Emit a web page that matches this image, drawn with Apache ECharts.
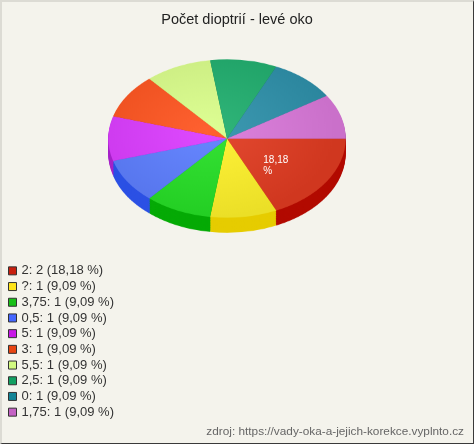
<!DOCTYPE html>
<html><head><meta charset="utf-8">
<script src="https://cdn.jsdelivr.net/npm/echarts@6/dist/echarts.min.js"></script>
<style>
html,body{margin:0;padding:0;background:#f4f3ec;}
#wrap{position:relative;width:474px;height:444px;overflow:hidden;background:#f4f3ec;}
#pie3d{position:absolute;left:0;top:0;width:474px;height:666px;transform:scaleY(0.6667);transform-origin:0 0;}
#main{position:absolute;left:0;top:0;width:474px;height:444px;}
#frame{position:absolute;left:0;top:0;width:474px;height:444px;box-sizing:border-box;border-left:2px solid #dcdbd4;border-top:2px solid #dcdbd4;border-right:1px solid #3a3a3a;border-bottom:1px solid #3a3a3a;pointer-events:none;}
</style></head>
<body>
<div id="wrap"><div id="pie3d"></div><div id="main"></div><div id="frame"></div></div>
<script>
const categories = ['2', '?', '3,75', '0,5', '5', '3', '5,5', '2,5', '0', '1,75'];
const counts = [2, 1, 1, 1, 1, 1, 1, 1, 1, 1];
const topColors = ['#e23c22', '#fff22a', '#26e026', '#5c7eff', '#dc3cff', '#ff5520', '#dcff8c', '#22b070', '#2f92ac', '#dc7adc'];
const sideColors = ['#b20a00', '#e6cc00', '#05aa05', '#2b50e4', '#a620c8', '#c43a0a', '#a8cc5a', '#157a48', '#1b6578', '#a04aa0'];
const legendColors = ['#c8200f', '#ffe41a', '#18c018', '#4466ff', '#c818e6', '#e84512', '#d2fa80', '#12a062', '#138496', '#c462c4'];
const titleText = 'Počet dioptrií - levé oko';
const sourceText = 'zdroj: https://vady-oka-a-jejich-korekce.vyplnto.cz';

const FONT = "'Liberation Sans', Arial, sans-serif";
const CX = 227, CY = 138.5, R = 118.7, S = 0.6667, DEPTH = 15;
const total = counts.reduce((a, b) => a + b, 0);
const fmtPct = v => (v / total * 100).toFixed(2).replace('.', ',');

function shade(hex, f) {
  const n = parseInt(hex.slice(1), 16);
  let r = (n >> 16) & 255, g = (n >> 8) & 255, b = n & 255;
  const m = c => f >= 0 ? Math.round(c + (255 - c) * f) : Math.round(c * (1 + f));
  return 'rgb(' + m(r) + ',' + m(g) + ',' + m(b) + ')';
}

const cyDiv = CY / S;
const basePie = {
  type: 'pie', startAngle: 0, clockwise: true, silent: true, animation: false,
  avoidLabelOverlap: false, label: { show: false }, labelLine: { show: false },
  emphasis: { disabled: true }, radius: [0, R]
};
const series3d = [];
const layers = 14;
for (let k = layers; k >= 1; k--) {
  const off = DEPTH / S * k / layers;
  series3d.push(Object.assign({}, basePie, {
    z: 1, center: [CX, cyDiv + off],
    data: categories.map((c, i) => ({ name: c, value: counts[i], itemStyle: { color: sideColors[i], borderWidth: 0 } }))
  }));
}
series3d.push(Object.assign({}, basePie, {
  z: 2, center: [CX, cyDiv],
  data: categories.map((c, i) => ({
    name: c, value: counts[i],
    itemStyle: {
      borderWidth: 0,
      color: { type: 'radial', x: CX - 20, y: cyDiv - 10, r: R * 1.1, global: true,
        colorStops: [{ offset: 0, color: shade(topColors[i], 0.07) }, { offset: 1, color: shade(topColors[i], -0.08) }] }
    }
  }))
}));
const pie3d = echarts.init(document.getElementById('pie3d'));
pie3d.setOption({ animation: false, series: series3d });

const main = echarts.init(document.getElementById('main'));
main.setOption({
  animation: false,
  title: [
    { text: titleText, left: 'center', top: 12, padding: 0,
      textStyle: { fontFamily: FONT, fontSize: 14.5, fontWeight: 'normal', color: '#222' } },
    { text: sourceText, right: 10, top: 426, padding: 0,
      textStyle: { fontFamily: FONT, fontSize: 11.8, fontWeight: 'normal', color: '#666' } }
  ],
  legend: {
    orient: 'vertical', left: 8, top: 263, itemWidth: 8, itemHeight: 8, itemGap: 0,
    icon: 'rect', selectedMode: false, padding: 0,
    data: categories.map((c, i) => ({ name: c, itemStyle: { color: legendColors[i], borderColor: '#333', borderWidth: 1 } })),
    formatter: name => {
      const i = categories.indexOf(name);
      return name + ': ' + counts[i] + ' (' + fmtPct(counts[i]) + ' %)';
    },
    textStyle: { fontFamily: FONT, fontSize: 13, lineHeight: 15.7, color: '#333' }
  },
  series: [{
    type: 'pie', center: [CX, CY], radius: [0, 110], startAngle: 0, clockwise: true,
    silent: true, avoidLabelOverlap: false, emphasis: { disabled: true },
    itemStyle: { color: 'rgba(0,0,0,0)', borderWidth: 0 },
    labelLine: { show: false },
    label: {
      show: true, position: 'inside', offset: [0, -4],
      formatter: p => (counts[p.dataIndex] / total > 0.1) ? '{a|' + fmtPct(counts[p.dataIndex]) + '}\n{a|%}' : '',
      rich: { a: { width: 25, align: 'left', fontFamily: FONT, fontSize: 10, lineHeight: 11.5, color: '#fff' } }
    },
    data: categories.map((c, i) => ({ name: c, value: counts[i] }))
  }]
});
</script>
</body></html>
